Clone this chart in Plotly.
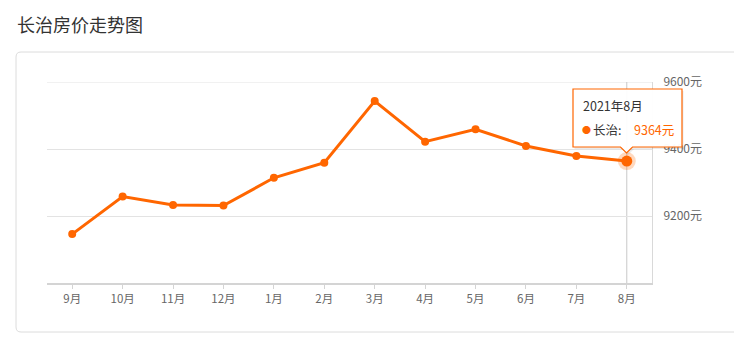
import plotly.graph_objects as go

months = ["9月", "10月", "11月", "12月", "1月", "2月", "3月", "4月", "5月", "6月", "7月", "8月"]
prices = [9146, 9258, 9233, 9231, 9314, 9359, 9543, 9422, 9459, 9409, 9379, 9364]
series_name = "长治"
tooltip_title = "2021年8月"
y_ticks = [9200, 9400, 9600]
y_ticktext = [f"{v}元" for v in y_ticks]
title_text = "长治房价走势图"

W, H = 734, 339
L, R, T, B = 47, 652, 82, 283
ORANGE = "#ff6600"
GRID = "#e3e3e3"
FONT = "Noto Sans CJK SC, Microsoft YaHei, sans-serif"


def px(x):
    return (x - L) / (R - L)


def py(y):
    return (B - y) / (B - T)


fig = go.Figure()
fig.add_trace(go.Scatter(
    x=months, y=prices, mode="lines+markers",
    line=dict(color=ORANGE, width=3),
    marker=dict(color=ORANGE, size=8),
    hoverinfo="skip", showlegend=False,
))
# highlighted last point (halo + dot)
fig.add_trace(go.Scatter(
    x=months[-1:], y=prices[-1:], mode="markers",
    marker=dict(color="rgba(255,102,0,0.25)", size=18),
    hoverinfo="skip", showlegend=False,
))
fig.add_trace(go.Scatter(
    x=months[-1:], y=prices[-1:], mode="markers",
    marker=dict(color=ORANGE, size=11),
    hoverinfo="skip", showlegend=False,
))

shapes = []
# card border (rounded left corners, extends past the right edge)
r = 5
x0, x1, y0, y1 = px(16), px(745), py(52), py(332)
rx = r / (R - L)
ry = r / (B - T)
shapes.append(dict(
    type="path", xref="paper", yref="paper", layer="below",
    path=(f"M {x1},{y0} L {x0+rx},{y0} Q {x0},{y0} {x0},{y0-ry} "
          f"L {x0},{y1+ry} Q {x0},{y1} {x0+rx},{y1} L {x1},{y1}"),
    line=dict(color="#dcdcdc", width=1),
))
# top gridline (at the range edge)
shapes.append(dict(
    type="line", xref="paper", yref="y", x0=0, x1=1, y0=y_ticks[-1], y1=y_ticks[-1],
    line=dict(color=GRID, width=1), layer="below",
))
# hover guide line
shapes.append(dict(
    type="line", xref="x", yref="paper", x0=months[-1], x1=months[-1], y0=0, y1=1,
    line=dict(color="#c8c8c8", width=1), layer="below",
))
# tooltip callout with shadow
bx0, bx1, by0, by1 = 573, 682, 89, 147
tipx, tipy = 626.5, 153
def callout(dx=0, dy=0):
    return (f"M {px(bx0+dx)},{py(by0+dy)} L {px(bx1+dx)},{py(by0+dy)} L {px(bx1+dx)},{py(by1+dy)} "
            f"L {px(tipx+6+dx)},{py(by1+dy)} L {px(tipx+dx)},{py(tipy+dy)} L {px(tipx-6+dx)},{py(by1+dy)} "
            f"L {px(bx0+dx)},{py(by1+dy)} Z")
shapes.append(dict(type="path", xref="paper", yref="paper", path=callout(1.5, 2),
                   line=dict(width=0), fillcolor="rgba(0,0,0,0.08)"))
shapes.append(dict(type="path", xref="paper", yref="paper", path=callout(),
                   line=dict(color=ORANGE, width=1.2), fillcolor="rgba(255,255,255,0.97)"))

annotations = [
    dict(text=title_text, xref="paper", yref="paper", x=px(15), y=py(24),
         xanchor="left", yanchor="middle", showarrow=False,
         font=dict(size=18, color="#333333", family=FONT)),
    dict(text=tooltip_title, xref="paper", yref="paper", x=px(581), y=py(105),
         xanchor="left", yanchor="middle", showarrow=False,
         font=dict(size=12.5, color="#333333", family=FONT)),
    dict(text="●", xref="paper", yref="paper", x=px(580), y=py(129.5),
         xanchor="left", yanchor="middle", showarrow=False,
         font=dict(size=9, color=ORANGE, family=FONT)),
    dict(text=f"{series_name}:", xref="paper", yref="paper", x=px(591), y=py(129),
         xanchor="left", yanchor="middle", showarrow=False,
         font=dict(size=12.5, color="#333333", family=FONT)),
    dict(text=f"{prices[-1]}元", xref="paper", yref="paper", x=px(632), y=py(129),
         xanchor="left", yanchor="middle", showarrow=False,
         font=dict(size=12.5, color=ORANGE, family=FONT)),
]

fig.update_layout(
    width=W, height=H,
    margin=dict(l=L, r=W - R, t=T, b=H - B, pad=0),
    paper_bgcolor="white", plot_bgcolor="white",
    font=dict(family=FONT, color="#666666", size=12),
    shapes=shapes, annotations=annotations,
    hovermode=False,
)
fig.update_xaxes(
    type="category", range=[-0.5, len(months) - 0.5],
    showline=True, linecolor="#d4d4d4", linewidth=2,
    ticks="outside", ticklen=4, tickcolor="#d4d4d4", tickwidth=1,
    showgrid=False, zeroline=False,
    tickfont=dict(size=11.5, color="#666666"),
    fixedrange=True,
)
fig.update_yaxes(
    side="right", range=[9000, 9600],
    tickvals=y_ticks, ticktext=y_ticktext,
    showline=True, linecolor="#d9d9d9", linewidth=1,
    showgrid=True, gridcolor=GRID, gridwidth=1,
    zeroline=False, ticks="", ticklabelstandoff=8,
    tickfont=dict(size=12, color="#666666"),
    fixedrange=True,
)

fig.write_html("out.html", config={"displayModeBar": False})
